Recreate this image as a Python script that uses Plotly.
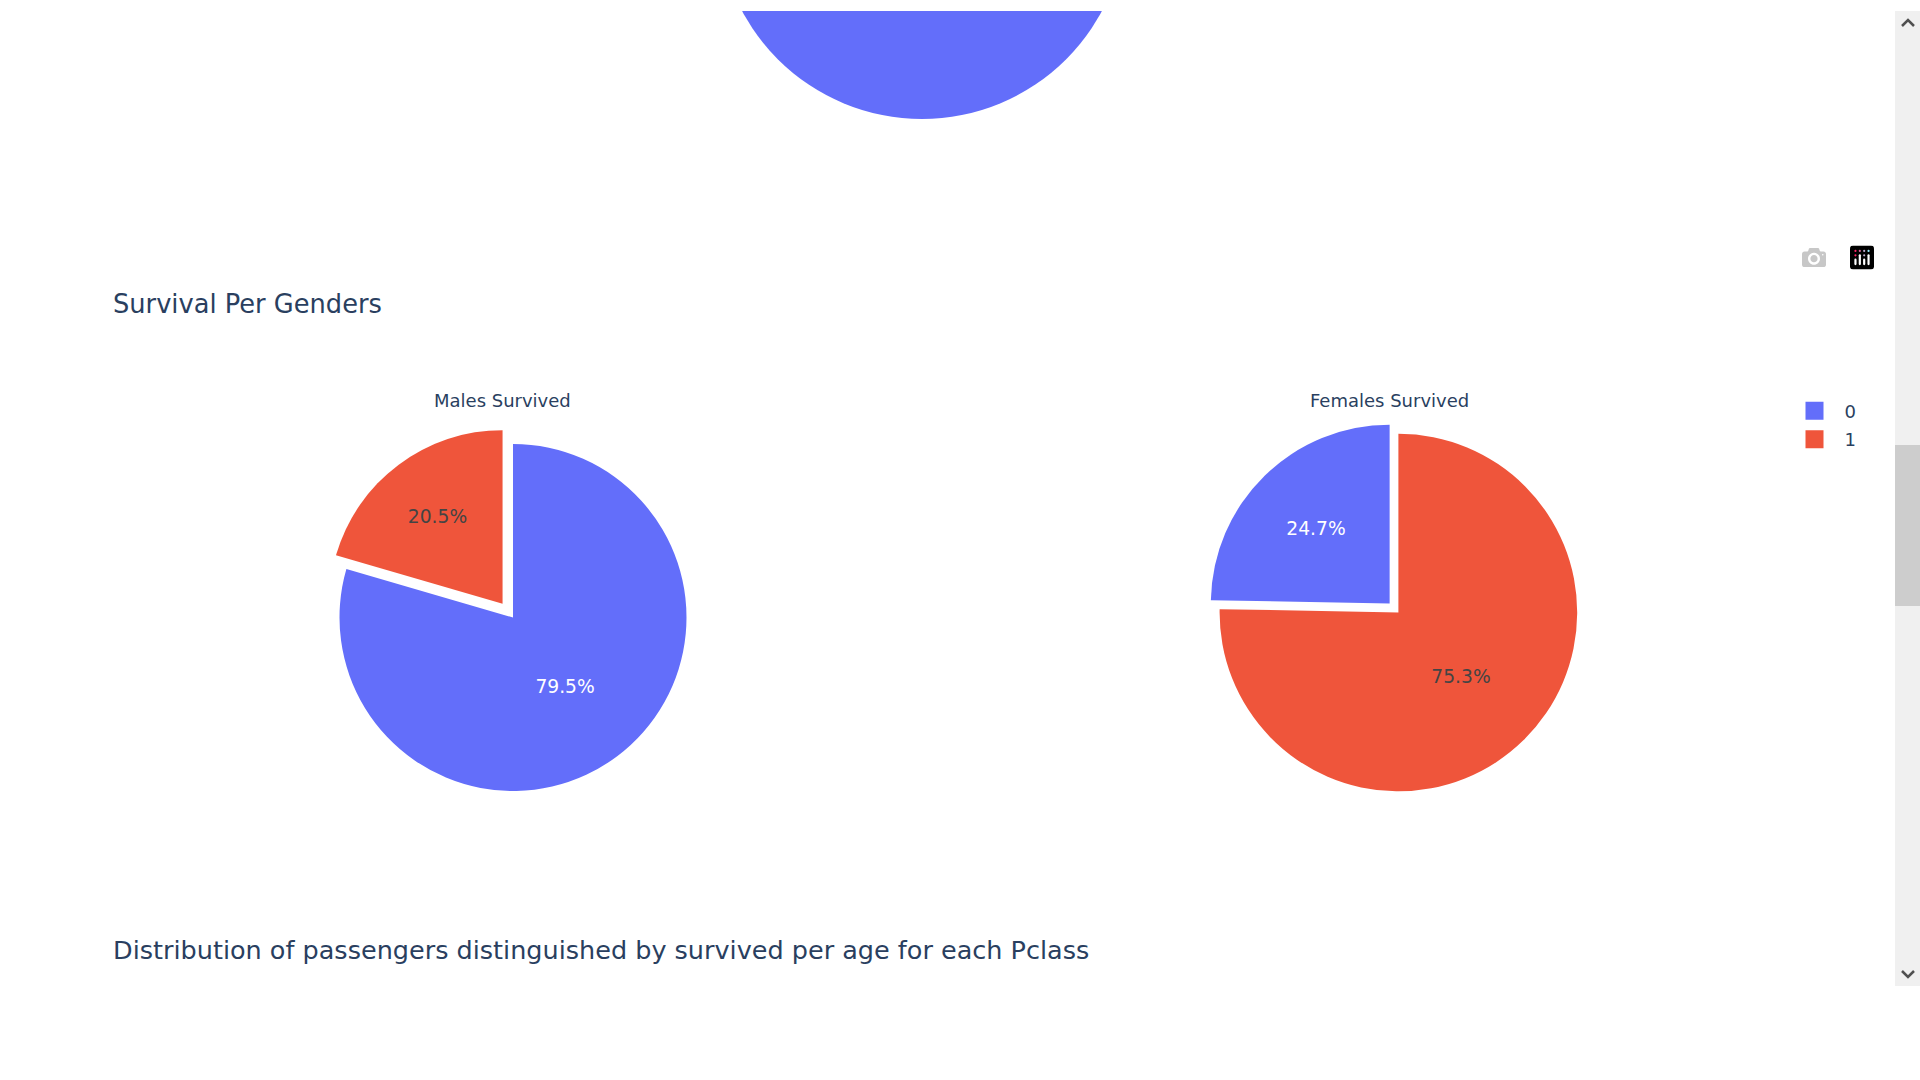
import plotly.graph_objects as go

# data
labels = ["0", "1"]
males = [79.5, 20.5]
females = [24.7, 75.3]
upper_values = [100]
colors = ["#636efa", "#EF553B"]
male_pull = [0, 0.1]
female_pull = [0.07, 0]

# page is 1920x1080, the figure is taller so the upper pie can run off the top
W = 1920
OFF = 300
H = 1080 + OFF
FONT = "DejaVu Sans"


def px(x):
    return x / W


def py(y):
    return 1 - (y + OFF) / H


def pie_domain(cx, cy, r, pull):
    half = r * (1 + pull)
    return dict(x=[px(cx - half), px(cx + half)], y=[py(cy + half), py(cy - half)])


def rect(x0, y0, x1, y1, color):
    return dict(type="rect", xref="paper", yref="paper", layer="above",
                x0=px(x0), x1=px(x1), y0=py(y0), y1=py(y1),
                fillcolor=color, line_width=0)


def chevron(points):
    path = "M" + " L".join(f"{px(x)},{py(y)}" for x, y in points)
    return dict(type="path", xref="paper", yref="paper", layer="above", path=path,
                line=dict(color="#505050", width=2.5))


fig = go.Figure()
fig.add_trace(go.Pie(values=upper_values, labels=["0"], marker_colors=[colors[0]],
                     textinfo="none", sort=False, showlegend=False,
                     domain=pie_domain(922, -85, 204, 0)))
fig.add_trace(go.Pie(values=males, labels=labels, pull=male_pull, marker_colors=colors,
                     textinfo="percent", domain=pie_domain(513, 617.5, 173.5, 0.1),
                     textfont=dict(size=18.7)))
fig.add_trace(go.Pie(values=females, labels=labels, pull=female_pull, marker_colors=colors,
                     textinfo="percent", domain=pie_domain(1398.4, 612.5, 178.8, 0.07),
                     textfont=dict(size=18.7)))


def text_note(text, x, y, size, anchor):
    return dict(text=text, x=px(x), y=py(y), xref="paper", yref="paper", showarrow=False,
                xanchor=anchor, yanchor="middle", font=dict(size=size, color="#2a3f5f"))


fig.update_layout(
    width=W, height=H,
    margin=dict(l=0, r=0, t=0, b=0),
    font=dict(family=FONT),
    paper_bgcolor="white",
    legend=dict(x=px(1784.5), y=py(389), xanchor="left", yanchor="top", font=dict(size=12)),
    annotations=[
        text_note("Survival Per Genders", 111, 304, 25.7, "left"),
        text_note("Males Survived", 502.5, 400, 18, "center"),
        text_note("Females Survived", 1389.5, 400, 18, "center"),
        text_note("Distribution of passengers distinguished by survived per age for each Pclass",
                  111, 949.5, 25.5, "left"),
    ],
    shapes=[
        rect(0, -OFF, W, 11, "white"),
        rect(1895, 11, 1920, 986, "#f0f0f0"),
        rect(1895, 445, 1920, 606, "#cdcdcd"),
        chevron([(1902, 26), (1908, 20), (1914, 26)]),
        chevron([(1902, 971), (1908, 977), (1914, 971)]),
    ],
)

# scale legend and modebar up like the zoomed page of the original
post = """
document.documentElement.style.overflow = 'hidden';
document.body.style.margin = '0';
var gd = document.querySelector('.plotly-graph-div');
gd.style.marginTop = '-300px';
var lg = gd.querySelector('.legend');
lg.setAttribute('transform', lg.getAttribute('transform') + ' scale(1.5)');
var mb = gd.querySelector('.modebar-container');
mb.style.top = '%dpx';
mb.style.right = '%dpx';
mb.style.transformOrigin = 'top right';
mb.style.transform = 'scale(1.5)';
""" % (OFF + 238, 37.5)

fig.write_html("out.html", post_script=post,
               default_width="1920px", default_height="1380px",
               config=dict(displayModeBar=True, displaylogo=True,
                           modeBarButtons=[["toImage"]]))
